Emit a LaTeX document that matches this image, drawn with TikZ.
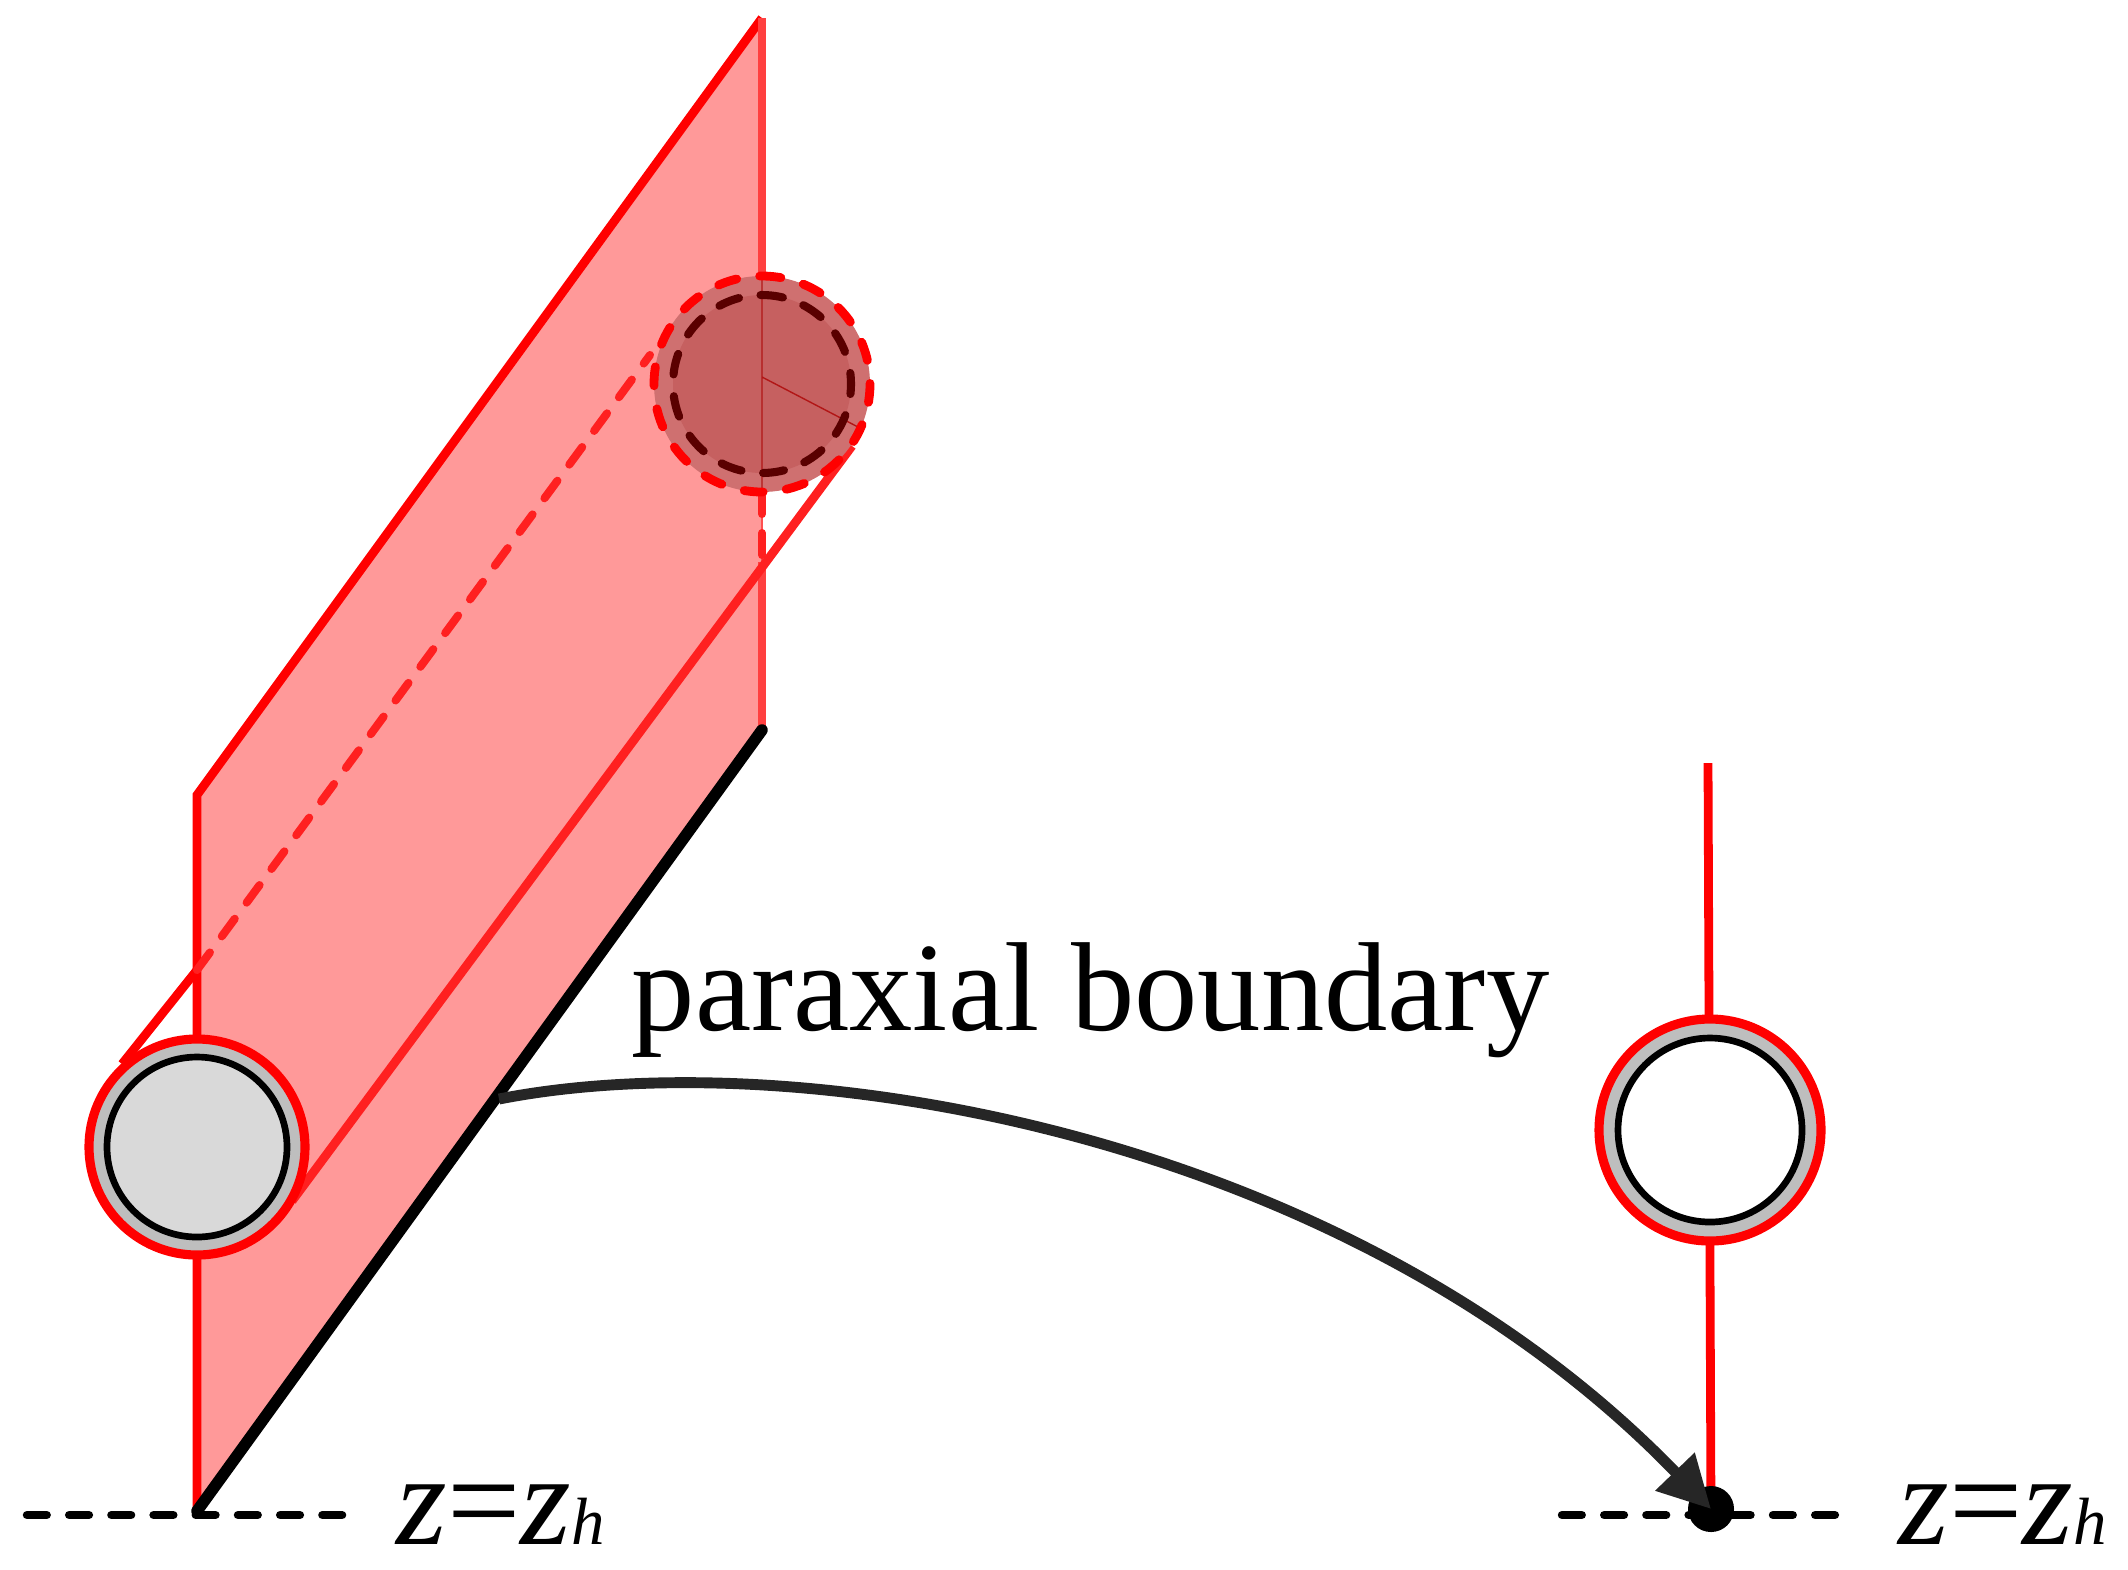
\documentclass[tikz,border=0pt]{standalone}
\usepackage{fontspec}
\setmainfont{Liberation Serif}
\usetikzlibrary{arrows.meta}
\definecolor{sheetpink}{HTML}{FF9999}
\definecolor{ringgray}{HTML}{BEBEBE}
\definecolor{diskgray}{HTML}{D9D9D9}
\definecolor{ringdark}{HTML}{CF7070}
\definecolor{diskdark}{HTML}{C66060}
\definecolor{arcgray}{HTML}{262626}
\definecolor{softred}{HTML}{FF2020}
\definecolor{paleline}{HTML}{FF4040}
\definecolor{maroon}{HTML}{5A0000}
\tikzset{
  redline/.style={draw=red,line width=2.5pt},
  ringline/.style={draw=red,line width=2.6pt},
  softline/.style={draw=softred,line width=2.3pt},
  softdash/.style={softline,line cap=round,dash pattern=on 6.2pt off 5.7pt},
  horizon/.style={draw=black,line width=2.4pt,line cap=round,dash pattern=on 5.6pt off 6.4pt},
  zlabel/.style={anchor=base west,inner sep=0pt,font=\fontsize{37}{40}\selectfont}
}
\begin{document}
\begin{tikzpicture}[x=0.01cm,y=-0.01cm]
    \useasboundingbox (0,0) rectangle (2128,1569);
    % sheet
    \fill[sheetpink] (197,1511) -- (197,795) -- (762,18) -- (762,730) -- cycle;
    \draw[redline] (197,1511) -- (197,795) -- (762,18);
    \draw[draw=paleline,line width=2.3pt] (762,18) -- (762,280);
    \draw[draw=paleline,line width=2.3pt] (762,562) -- (762,730);
    \draw[draw=softred!60!sheetpink,line width=0.4pt] (762,510) -- (762,562);
    \draw[softline,line cap=round] (762,496) -- (762,514);
    \draw[softline,line cap=round] (762,533) -- (762,555);
    \draw[redline] (122,1064) -- (197,970);
    \draw[softdash] (197,970) -- (650,355);
    \draw[draw=softred,line width=2.5pt] (292,1201) -- (852,446);
    \draw[draw=black,line width=3.3pt,line cap=round] (197,1511) -- (762,730);
    % far end of the tube
    \fill[ringdark] (762,384) circle (108);
    \fill[diskdark] (762,384) circle (89);
    \draw[draw=softred!70!black,line width=0.4pt] (762,280) -- (762,490) (762,377) -- (858,427);
    \draw[draw=red,line width=2.5pt,line cap=round,dash pattern=on 5.4pt off 6.62pt] (762,384) ++(-90:108) arc (-90:270:108);
    \draw[draw=maroon,line width=2.3pt,line cap=round,dash pattern=on 6pt off 6.2pt] (762,384) ++(-90:89) arc (-90:270:89);
    % near end of the tube
    \draw[fill=ringgray,ringline] (197,1147) circle (108);
    \draw[fill=diskgray,draw=black,line width=1.9pt] (197,1147) circle (90);
    % right hand cut
    \draw[redline] (1708,763) -- (1711,1520);
    \draw[fill=ringgray,ringline] (1710,1130) circle (111);
    \draw[fill=white,draw=black,line width=1.9pt] (1710,1130) circle (92);
    % horizons
    \draw[horizon] (27,1515) -- (348,1515);
    \draw[horizon] (1562,1515) -- (1842,1515);
    \node[fill=black,circle,minimum width=0.46cm,minimum height=0.46cm,inner sep=0pt] (dot) at (1711,1509) {};
    % labels
    \node[anchor=base west,inner sep=0pt,font=\fontsize{36}{40}\selectfont] (para) at (631,1030) {paraxial boundary};
    \node[zlabel] (zleft) at (396,1544) {\textit{z}=\textit{z}{\fontsize{19}{20}\selectfont\textit{h}}};
    \node[zlabel] (zright) at (1898,1544) {\textit{z}=\textit{z}{\fontsize{19}{20}\selectfont\textit{h}}};
    % map
    \coordinate (edge) at (499,1099);
    \draw[draw=arcgray,line width=3.1pt,-{Triangle[length=0.52cm,width=0.52cm,quick]}] (edge) .. controls (800,1040) and (1350,1135) .. (dot.center);
\end{tikzpicture}
\end{document}
